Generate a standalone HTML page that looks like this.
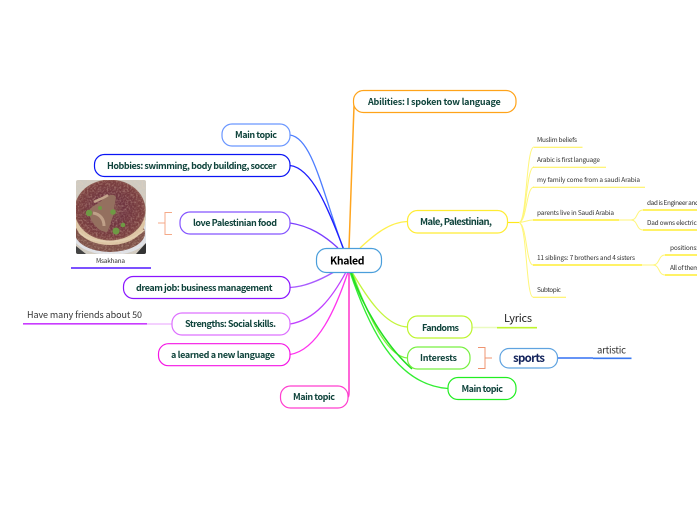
<!DOCTYPE html>
<html><head><meta charset="utf-8"><style>
html,body{margin:0;padding:0;background:#fff;width:697px;height:520px;overflow:hidden}
svg{display:block}
text{font-family:"Noto Sans CJK JP","Liberation Sans",sans-serif}
.b{font-weight:700;font-size:9px;fill:#10443c}
.s{font-size:6.500px;fill:#333}
.l{fill:none}
</style></head><body>
<svg width="697" height="520" viewBox="0 0 697 520" xmlns="http://www.w3.org/2000/svg">
<defs>
<clipPath id="img"><rect x="76" y="180" width="70" height="74" rx="2"/></clipPath>
<radialGradient id="food" cx=".5" cy=".5" r=".55"><stop offset="0" stop-color="#8a5c52"/><stop offset=".35" stop-color="#6e3440"/><stop offset=".85" stop-color="#7a3f3f"/><stop offset="1" stop-color="#a5806c"/></radialGradient>
<filter id="spk" x="0" y="0" width="100%" height="100%"><feTurbulence type="fractalNoise" baseFrequency=".55" numOctaves="2" seed="4"/><feColorMatrix values="0 0 0 0 .85  0 0 0 0 .65  0 0 0 0 .5  1.800 0 0 0 -.75"/></filter>
</defs>

<!-- connectors -->
<g class="l" stroke-width="1.300">
<path d="M290 135C312 138 322 190 343 248" stroke="#4d7dff"/>
<path d="M290 165.500C312 168 328 208 344 250" stroke="#1f1fff"/>
<path d="M290 223C310 226 325 236 338 248" stroke="#7a3dff"/>
<path d="M290 287.500C305 287 320 280 334 272" stroke="#a85cff"/>
<path d="M290 324C315 320 332 298 346 272" stroke="#c040ff"/>
<path d="M290 354.500C318 350 336 308 348 272" stroke="#ff33ee"/>
<path d="M349 272L349 392C349 396 348.500 397 348 397" stroke="#ff33cc" stroke-width="1.500"/>
<path d="M349 248L354 106C354 103 354 102 354 101" stroke="#ffa51f" stroke-width="1.500"/>
<path d="M360 248C375 234 390 222 407.500 221.500" stroke="#fff04d"/>
<path d="M352 272C366 296 385 326 407.500 327" stroke="#c4f53d"/>
<path d="M352 272C364 305 385 357 407.500 358" stroke="#7cf53d"/>
<path d="M350 272C368 325 395 385 448 388.500" stroke="#33ee33"/>
<path d="M351 272C362 305 385 345 412 369" stroke="#22dd22" stroke-width="1.500"/>
<!-- Male children -->
<g stroke="#fff67a" stroke-width="1">
<path d="M507 222.500H519C527 222 526 147 534 147"/>
<path d="M519 222.500C527 222 526 167 534 167"/>
<path d="M519 222.500C527 222 526 187 534 187"/>
<path d="M519 222.500C526 222 527 220 533 220"/>
<path d="M519 222.500C527 224 526 265 533 265"/>
<path d="M519 222.500C527 224 526 297 533 297"/>
<path d="M619 220H631C638 220 636 210 643 210"/>
<path d="M631 220C638 220 636 230 643 230"/>
<path d="M642 265H653C660 265 658 255 665 255"/>
<path d="M653 265C660 265 658 275 665 275"/>
</g>
<path d="M507 222.500H519" stroke="#ffe81a" stroke-width="1.200"/>
<path d="M472 327.500H497" stroke="#eafbc0" stroke-width="1.400"/>
<path d="M558 358H593" stroke="#0a55f0" stroke-width="1.300"/>
<path d="M147 324H172" stroke="#f0c0ff" stroke-width="1.400"/>
</g>

<!-- underlines -->
<g fill="none">
<path d="M534 147.300H582.500" stroke="#fff04d" stroke-width="1"/>
<path d="M533 167.300H606" stroke="#fff04d" stroke-width="1"/>
<path d="M533 187.300H645" stroke="#fff04d" stroke-width="1"/>
<path d="M533 220H619" stroke="#ffee33" stroke-width="1.400"/>
<path d="M643 210H697" stroke="#ffee33" stroke-width="1.400"/>
<path d="M643 230H697" stroke="#ffee33" stroke-width="1.400"/>
<path d="M533 265H642" stroke="#ffee33" stroke-width="1.400"/>
<path d="M665 255H697" stroke="#ffee33" stroke-width="1.400"/>
<path d="M665 275H697" stroke="#ffee33" stroke-width="1.400"/>
<path d="M533 297.300H566" stroke="#fff04d" stroke-width="1"/>
<path d="M497 327.700H537" stroke="#bff52e" stroke-width="1.600"/>
<path d="M593 358.300H631.500" stroke="#3a78f0" stroke-width="1.600"/>
<path d="M23 323.800H147" stroke="#c93cff" stroke-width="1.600"/>
<path d="M71 268H151" stroke="#6a38ff" stroke-width="1.800"/>
</g>

<!-- brackets -->
<path d="M172 212.500H165V234.500H172M165 223H158" fill="none" stroke="#f4a988" stroke-width="1"/>
<path d="M478 347.500H485V368.500H478M485 358H492" fill="none" stroke="#ef9470" stroke-width="1"/>

<!-- food image -->
<g clip-path="url(#img)">
<rect x="76" y="180" width="70" height="74" fill="#cfcbc2"/>
<ellipse cx="111" cy="232" rx="40" ry="23" fill="#dfe3ea"/>
<ellipse cx="110" cy="233" rx="35" ry="19" fill="#7d5048"/>
<ellipse cx="110" cy="222" rx="35" ry="23" fill="#dcc5a3"/>
<ellipse cx="110" cy="210" rx="35.500" ry="30.500" fill="url(#food)"/>
<rect x="76" y="180" width="70" height="74" filter="url(#spk)" opacity=".5"/>
<path d="M79 232C90 245 130 245 144 230" fill="none" stroke="#e2cfb0" stroke-width="1.600"/>
<path d="M88 212C92 205 97 205 101 201C106 196 113 192 116 197C115 205 113 209 114 213C111 222 109 229 107 232C99 232 92 224 88 212Z" fill="#94705f"/>
<path d="M94 202C100 199 104 198 108 195" stroke="#c3a48c" stroke-width="2.500" fill="none"/>
<path d="M93 213C100 214 104 219 104 226" stroke="#bfa088" stroke-width="3" fill="none"/>
<circle cx="89" cy="213" r="3.200" fill="#6e9a44"/><circle cx="113" cy="212" r="2.800" fill="#6e9a44"/><circle cx="100" cy="208" r="2" fill="#6e9a44"/><circle cx="116" cy="231" r="3.500" fill="#6e9a44"/><circle cx="123" cy="225" r="2.300" fill="#6e9a44"/>
<path d="M136 254L146 243V254Z" fill="#333"/><path d="M76 246V254H86Z" fill="#444"/>
</g>
<text x="96" y="263" textLength="29" style="font-size:6.500px;fill:#333">Msakhana</text>

<!-- Nodes -->
<g fill="#fff" stroke-width="1.200">
<rect x="222" y="124" width="68" height="22" rx="10" stroke="#6b97ff"/>
<rect x="94.500" y="154.500" width="195.500" height="22" rx="10" stroke="#0a14f5"/>
<rect x="180" y="212" width="110" height="22" rx="10" stroke="#8455ff"/>
<rect x="123.500" y="276.500" width="166.500" height="22" rx="10" stroke="#8a14ff"/>
<rect x="172" y="313" width="118" height="22" rx="10" stroke="#dd70ff"/>
<rect x="158.500" y="343.700" width="131.500" height="22" rx="10" stroke="#f515e5"/>
<rect x="280.500" y="386" width="67.500" height="22" rx="10" stroke="#ff3fcf"/>
<rect x="353.500" y="90.500" width="162.500" height="22" rx="10" stroke="#ffa31a"/>
<rect x="407.500" y="210.500" width="100" height="22.500" rx="10" stroke="#ffec33"/>
<rect x="407.500" y="316" width="64.500" height="22" rx="10" stroke="#bdf52e"/>
<rect x="407.500" y="347" width="62.500" height="22" rx="10" stroke="#77f040"/>
<rect x="448" y="377.500" width="68" height="22" rx="10" stroke="#22ee22"/>
<rect x="500" y="348.500" width="57.500" height="19.500" rx="9" stroke="#5fa3e0"/>
<rect x="316.500" y="248.500" width="65" height="24" rx="10" stroke="#4a9edb"/>
</g>

<!-- labels -->
<text class="b" x="235" y="138" textLength="42">Main topic</text>
<text class="b" x="107" y="169" textLength="169.500">Hobbies: swimming,  body building, soccer</text>
<text class="b" x="193" y="226" textLength="84">love Palestinian food</text>
<text class="b" x="136" y="291" textLength="136.500">dream job: business management</text>
<text class="b" x="185" y="327" textLength="91">Strengths: Social skills.</text>
<text class="b" x="171" y="358" textLength="104">a learned a new language</text>
<text class="b" x="293" y="400" textLength="42">Main topic</text>
<text class="b" x="368" y="105" textLength="132.700">Abilities: I  spoken  tow language</text>
<text class="b" x="420" y="225" textLength="72" style="font-size:9.500px">Male, Palestinian,</text>
<text class="b" x="422" y="331" textLength="37">Fandoms</text>
<text class="b" x="420" y="361" textLength="37">Interests</text>
<text class="b" x="461.500" y="392" textLength="41.500">Main topic</text>
<text x="513" y="362" textLength="32" style="font-weight:700;font-size:11.500px;fill:#14245c">sports</text>
<text x="330" y="264.500" textLength="34.500" style="font-weight:700;font-size:10.500px;fill:#000">Khaled</text>

<text class="s" x="537" y="142" textLength="40">Muslim beliefs</text>
<text class="s" x="537" y="162" textLength="63">Arabic is first language</text>
<text class="s" x="537" y="182" textLength="103">my family come from a  saudi  Arabia</text>
<text class="s" x="537" y="215" textLength="77">parents  live in Saudi Arabia</text>
<text class="s" x="647" y="205" textLength="52">dad is Engineer and</text>
<text class="s" x="647" y="225" textLength="65">Dad owns electric shop</text>
<text class="s" x="537" y="260" textLength="98">11 siblings: 7 brothers and 4 sisters</text>
<text class="s" x="670" y="250" textLength="36">positions: all</text>
<text class="s" x="670" y="270" textLength="39">All of them are</text>
<text class="s" x="537" y="292" textLength="24">Subtopic</text>
<text x="504" y="322" textLength="28" style="font-size:11px;fill:#222">Lyrics</text>
<text x="597" y="353.500" textLength="29" style="font-size:9.500px;fill:#333">artistic</text>
<text x="27" y="318" textLength="115" style="font-size:9px;fill:#333">Have many friends  about 50</text>
</svg>
</body></html>
